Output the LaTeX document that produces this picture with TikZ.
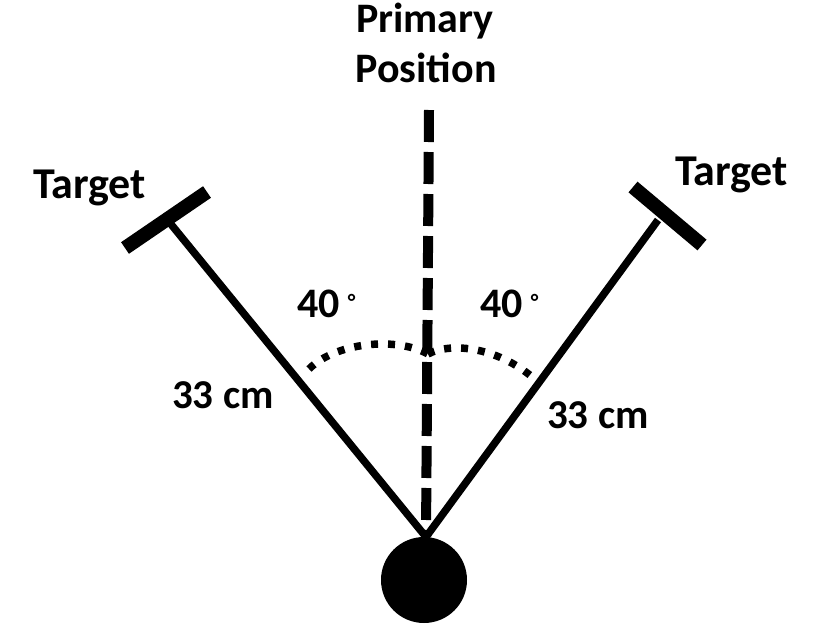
\documentclass[tikz,border=0pt]{standalone}
\usepackage{fontspec}
\setmainfont{Carlito}
\usetikzlibrary{positioning}
\newcommand{\dg}{\kern8pt\raisebox{8pt}{\fontsize{22}{22}\selectfont °}}

\begin{document}
\begin{tikzpicture}[x=1pt,y=-1pt,
  arm/.style={line width=7.5pt},
  bar/.style={line width=14pt},
  midline/.style={line width=10pt,dash pattern=on 32pt off 10pt},
  dotarc/.style={line width=7.5pt,dash pattern=on 7pt off 10pt},
  lbl/.style={font=\fontsize{42}{48}\selectfont\bfseries,anchor=base west}]
\tikzstyle{every node}+=[inner sep=0pt]
\useasboundingbox (0,0) rectangle (817,638);
% eye and lines of sight
\node (eye) [circle,fill=black,minimum size=86pt] at (424,580) {};
\coordinate (apex) at (426,537);
\coordinate (top) at (429,110);
\coordinate (tl) at (170,223);
\coordinate (tr) at (658,220);
\draw [midline] (top) -- (apex);
\draw [arm] (apex) -- (tl);
\draw [arm] (apex) -- (tr);
% targets
\coordinate (tl1) at (125,248);
\coordinate (tl2) at (207,192);
\coordinate (tr1) at (633,187);
\coordinate (tr2) at (702,245);
\draw [bar] (tl1) -- (tl2);
\draw [bar] (tr1) -- (tr2);
% angle arcs
\coordinate (al) at (309,369);
\coordinate (am) at (428,354);
\coordinate (ar) at (539,383);
\draw [dotarc] (al) .. controls (335,343) and (395,336) .. (am);
\draw [dotarc] (am) .. controls (450,342) and (500,346) .. (ar);
% labels
\node (prim) [font=\fontsize{42}{50}\selectfont\bfseries,anchor=base] at (425,32) {Primary};
\node (pos) [font=\fontsize{42}{50}\selectfont\bfseries,anchor=base] at (426,82) {Position};
\node (targl) [lbl,font=\fontsize{44}{48}\selectfont\bfseries] at (33,198) {Target};
\node (targr) [lbl,font=\fontsize{44}{48}\selectfont\bfseries] at (675,185) {Target};
\node (angl) [lbl] at (297,317) {40\dg};
\node (angr) [lbl] at (480,317) {40\dg};
\node (distl) [lbl,font=\fontsize{41}{48}\selectfont\bfseries] at (172,408) {33 cm};
\node (distr) [lbl,font=\fontsize{41}{48}\selectfont\bfseries] at (547,428) {33 cm};
\end{tikzpicture}
\end{document}
